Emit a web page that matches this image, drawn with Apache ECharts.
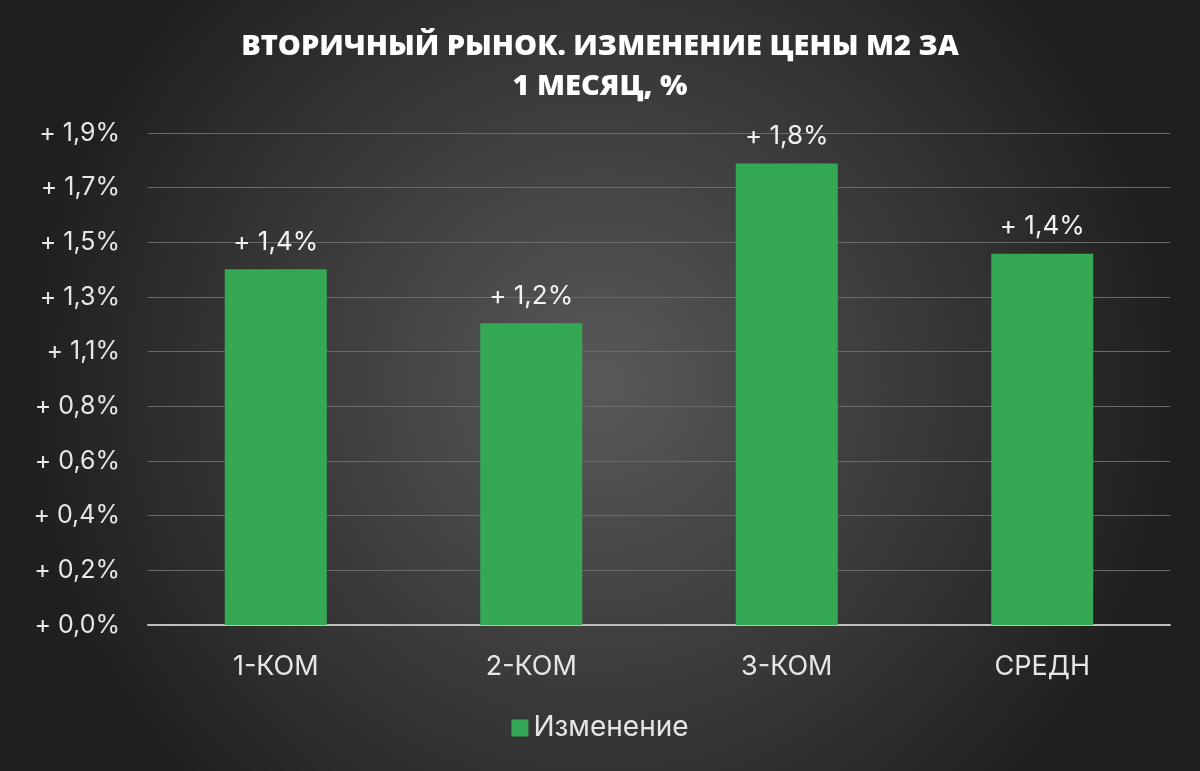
<!DOCTYPE html>
<html><head><meta charset="utf-8">
<script src="https://cdn.jsdelivr.net/npm/echarts@6/dist/echarts.min.js"></script>
<style>html,body{margin:0;padding:0;}#c{width:1200px;height:771px;}</style>
</head><body><div id="c"></div>
<script>
// данные
var categories = ['1-КОМ', '2-КОМ', '3-КОМ', 'СРЕДН'];
var changeValues = [1.38, 1.17, 1.79, 1.44];
var seriesName = 'Изменение';

var fmt = function (v) {
    return '+ ' + v.toFixed(1).replace('.', ',') + '%';
};

var option = {
    backgroundColor: {
        type: 'radial', x: 0.5, y: 0.5, r: 0.75,
        colorStops: [{offset: 0, color: '#595959'}, {offset: 1, color: '#1f1f1f'}]
    },
    title: {
        text: 'ВТОРИЧНЫЙ РЫНОК. ИЗМЕНЕНИЕ ЦЕНЫ М2 ЗА\n1 МЕСЯЦ, %',
        left: 'center',
        top: 22,
        textStyle: {color: '#fff', fontSize: 29, fontWeight: 800, fontFamily: 'Open Sans', lineHeight: 40}
    },
    legend: {
        bottom: 24,
        itemWidth: 17, itemHeight: 17,
        icon: 'rect',
        textStyle: {color: '#e6e6e6', fontSize: 28, fontFamily: 'Inter'},
        data: [seriesName]
    },
    grid: {left: 148, right: 30, top: 133, bottom: 146},
    xAxis: {
        type: 'category',
        data: categories,
        axisLine: {lineStyle: {color: '#bfbfbf', width: 2}},
        axisTick: {show: false},
        axisLabel: {color: '#e6e6e6', fontSize: 27, fontFamily: 'Inter', margin: 28}
    },
    yAxis: {
        type: 'value',
        min: 0, max: 1.908, interval: 0.212,
        axisLine: {show: false},
        axisTick: {show: false},
        splitLine: {lineStyle: {color: '#6a6a6a'}},
        axisLabel: {color: '#e6e6e6', fontSize: 25, fontFamily: 'Inter', margin: 28, formatter: fmt}
    },
    series: [{
        name: seriesName,
        type: 'bar',
        barWidth: 102,
        data: changeValues,
        itemStyle: {color: '#34a853'},
        label: {
            show: true, position: 'top', distance: 14,
            color: '#f2f2f2', fontSize: 26, fontFamily: 'Inter',
            formatter: function (p) { return fmt(p.value); }
        }
    }]
};
var chart = echarts.init(document.getElementById('c'));
chart.setOption(option);
</script>
</body></html>
